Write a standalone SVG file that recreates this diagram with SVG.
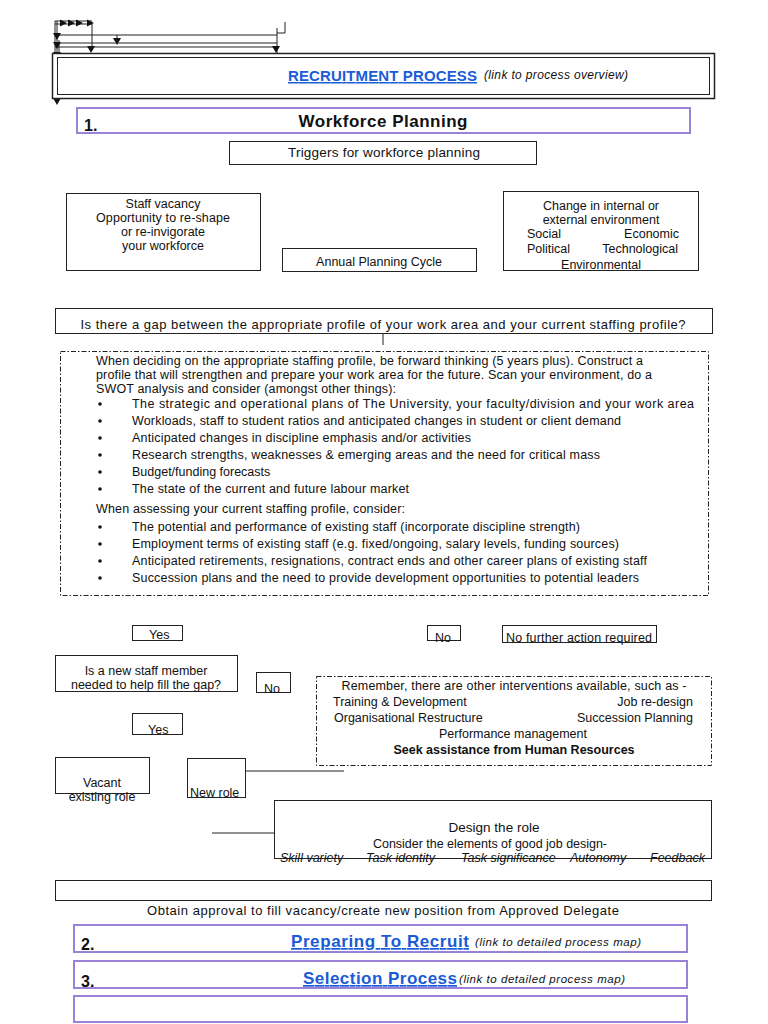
<svg xmlns="http://www.w3.org/2000/svg" xmlns:xlink="http://www.w3.org/1999/xlink" width="768" height="1024" viewBox="0 0 768 1024">
<style>
text{font-family:"Liberation Sans",Arial,sans-serif;fill:#111;}
.b{fill:#fff;stroke:#222;stroke-width:1;}
.p{fill:#fff;stroke:#9a82d8;stroke-width:2;}
.d{fill:none;stroke:#222;stroke-width:1;stroke-dasharray:5 2 1.5 2;}
.t{font-size:12.5px;}
.c{text-anchor:middle;}
.r{text-anchor:end;}
.bold{font-weight:bold;}
.i{font-style:italic;}
.link{fill:#1a5bd6;font-weight:bold;text-decoration:underline;}
.ln{stroke:#222;stroke-width:1;fill:none;}
</style>
<defs>
<path id="ad" d="M-4,-6 L4,-6 L0,1 z" fill="#111"/>
<path id="ar" d="M-6,-3.5 L1,0 L-6,3.5 z" fill="#111"/>
</defs>
<rect width="768" height="1024" fill="#fff"/>

<g id="connectors">
<path class="ln" d="M55 21 V100 M57 21 V103 M59 40 V58"/>
<path class="ln" d="M55 21 H92 M55 24 H92 M92 24 V50"/>
<use xlink:href="#ar" x="66" y="23"/>
<use xlink:href="#ar" x="74" y="23"/>
<use xlink:href="#ar" x="82" y="23"/>
<use xlink:href="#ar" x="93" y="23"/>
<use xlink:href="#ad" x="91" y="52"/>
<path class="ln" d="M57 35 H117 V42 M117 35 H277 M277 28 V60 M285 22 V33 H277"/>
<use xlink:href="#ad" x="117" y="44"/>
<path class="ln" d="M55 43 H277 M55 47 H277"/>
<use xlink:href="#ad" x="276" y="52"/>
<use xlink:href="#ad" x="276" y="63"/>
<use xlink:href="#ad" x="57" y="39"/>
<use xlink:href="#ad" x="57" y="48"/>
<use xlink:href="#ad" x="57" y="58"/>
<use xlink:href="#ad" x="57" y="104"/>
<path class="ln" d="M383 334 V345"/>
<path class="ln" d="M245 771 H344"/>
<path class="ln" d="M212 833 H274"/>
</g>

<g id="header">
<rect x="52.5" y="53.5" width="662" height="45" fill="#fff" stroke="#222" stroke-width="1.5"/>
<rect x="57.5" y="57.5" width="652" height="37" fill="none" stroke="#222" stroke-width="1"/>
<text x="288" y="81" class="link" style="font-size:15px" textLength="189">RECRUITMENT PROCESS</text>
<text x="484" y="79" class="i" style="font-size:12px" textLength="144">(link to process overview)</text>
</g>

<g id="step1">
<rect x="77" y="108" width="613" height="25" class="p"/>
<text x="84" y="131" class="bold" style="font-size:16px">1.</text>
<text x="383" y="127" class="bold c" style="font-size:17px" textLength="169">Workforce Planning</text>
</g>

<g id="triggers">
<rect x="229.5" y="141.5" width="307" height="23" class="b"/>
<text x="384" y="157" class="c" style="font-size:13.5px" textLength="192">Triggers for workforce planning</text>
</g>

<g id="staff-vacancy">
<rect x="66.5" y="193.5" width="194" height="77" class="b"/>
<text x="163" y="208" class="t c">Staff vacancy</text>
<text x="163" y="222" class="t c" textLength="134">Opportunity to re-shape</text>
<text x="163" y="236" class="t c">or re-invigorate</text>
<text x="163" y="250" class="t c">your workforce</text>
</g>

<g id="annual-cycle">
<rect x="282.5" y="248.5" width="194" height="23" class="b"/>
<text x="379" y="266" class="t c">Annual Planning Cycle</text>
</g>

<g id="change">
<rect x="503.5" y="191.5" width="195" height="79" class="b"/>
<text x="601" y="210" class="t c">Change in internal or</text>
<text x="601" y="224" class="t c">external environment</text>
<text x="527" y="238" class="t">Social</text>
<text x="679" y="238" class="t r">Economic</text>
<text x="527" y="253" class="t">Political</text>
<text x="678" y="253" class="t r">Technological</text>
<text x="601" y="269" class="t c">Environmental</text>
</g>

<g id="gap-question">
<rect x="55.5" y="308.5" width="657" height="25" class="b"/>
<text x="383" y="329" class="c" style="font-size:13px" textLength="605">Is there a gap between the appropriate profile of your work area and your current staffing profile?</text>
</g>

<g id="considerations">
<rect x="60.5" y="351.5" width="648" height="244" class="d"/>
<text x="96" y="365" class="t" textLength="547">When deciding on the appropriate staffing profile, be forward thinking (5 years plus). Construct a</text>
<text x="96" y="379" class="t" textLength="556">profile that will strengthen and prepare your work area for the future. Scan your environment, do a</text>
<text x="96" y="393" class="t" textLength="300">SWOT analysis and consider (amongst other things):</text>
<circle cx="100" cy="404" r="1.8" fill="#111"/><text x="132" y="408" class="t" textLength="562">The strategic and operational plans of The University, your faculty/division and your work area</text>
<circle cx="100" cy="421" r="1.8" fill="#111"/><text x="132" y="425" class="t" textLength="489">Workloads, staff to student ratios and anticipated changes in student or client demand</text>
<circle cx="100" cy="438" r="1.8" fill="#111"/><text x="132" y="442" class="t" textLength="339">Anticipated changes in discipline emphasis and/or activities</text>
<circle cx="100" cy="455" r="1.8" fill="#111"/><text x="132" y="459" class="t" textLength="468">Research strengths, weaknesses &amp; emerging areas and the need for critical mass</text>
<circle cx="100" cy="472" r="1.8" fill="#111"/><text x="132" y="476" class="t">Budget/funding forecasts</text>
<circle cx="100" cy="489" r="1.8" fill="#111"/><text x="132" y="493" class="t" textLength="277">The state of the current and future labour market</text>
<text x="96" y="513" class="t" textLength="309">When assessing your current staffing profile, consider:</text>
<circle cx="100" cy="527" r="1.8" fill="#111"/><text x="132" y="531" class="t" textLength="448">The potential and performance of existing staff (incorporate discipline strength)</text>
<circle cx="100" cy="544" r="1.8" fill="#111"/><text x="132" y="548" class="t" textLength="487">Employment terms of existing staff (e.g. fixed/ongoing, salary levels, funding sources)</text>
<circle cx="100" cy="561" r="1.8" fill="#111"/><text x="132" y="565" class="t" textLength="515">Anticipated retirements, resignations, contract ends and other career plans of existing staff</text>
<circle cx="100" cy="578" r="1.8" fill="#111"/><text x="132" y="582" class="t" textLength="507">Succession plans and the need to provide development opportunities to potential leaders</text>
</g>

<g id="yes1">
<rect x="132.5" y="625.5" width="50" height="15" class="b"/>
<text x="149" y="639" class="t">Yes</text>
</g>

<g id="no1">
<rect x="427.5" y="625.5" width="33" height="15" class="b"/>
<text x="435" y="642" class="t">No</text>
</g>

<g id="no-action">
<rect x="502.5" y="625.5" width="154" height="17" class="b"/>
<text x="506" y="642" class="t" textLength="146">No further action required</text>
</g>

<g id="new-staff">
<rect x="55.5" y="655.5" width="182" height="36" class="b"/>
<text x="146" y="675" class="t c">Is a new staff member</text>
<text x="146" y="689" class="t c">needed to help fill the gap?</text>
</g>

<g id="no2">
<rect x="256.5" y="672.5" width="34" height="20" class="b"/>
<text x="264" y="693" class="t">No</text>
</g>

<g id="interventions">
<rect x="316.5" y="676.5" width="395" height="89" class="d"/>
<text x="514" y="690" class="t c" textLength="345">Remember, there are other interventions available, such as -</text>
<text x="333" y="706" class="t">Training &amp; Development</text>
<text x="693" y="706" class="t r">Job re-design</text>
<text x="334" y="722" class="t">Organisational Restructure</text>
<text x="693" y="722" class="t r">Succession Planning</text>
<text x="513" y="738" class="t c">Performance management</text>
<text x="514" y="754" class="t c bold">Seek assistance from Human Resources</text>
</g>

<g id="yes2">
<rect x="132.5" y="713.5" width="50" height="21" class="b"/>
<text x="148" y="734" class="t">Yes</text>
</g>

<g id="vacant">
<rect x="55.5" y="757.5" width="94" height="36" class="b"/>
<text x="102" y="787" class="t c">Vacant</text>
<text x="102" y="801" class="t c">existing role</text>
</g>

<g id="new-role">
<rect x="187.5" y="758.5" width="58" height="39" class="b"/>
<text x="190" y="797" class="t">New role</text>
</g>

<g id="design-role">
<rect x="274.5" y="800.5" width="437" height="58" class="b"/>
<text x="494" y="832" class="c" style="font-size:13.5px">Design the role</text>
<text x="490" y="848" class="t c" textLength="234">Consider the elements of good job design-</text>
<text x="280" y="862" class="t i">Skill variety</text>
<text x="366" y="862" class="t i">Task identity</text>
<text x="461" y="862" class="t i">Task significance</text>
<text x="570" y="862" class="t i">Autonomy</text>
<text x="650" y="862" class="t i">Feedback</text>
</g>

<g id="approval">
<rect x="55.5" y="880.5" width="656" height="20" class="b"/>
<text x="383" y="915" class="c" style="font-size:13px" textLength="472">Obtain approval to fill vacancy/create new position from Approved Delegate</text>
</g>

<g id="step2">
<rect x="74" y="925" width="613" height="27" class="p"/>
<text x="81" y="950" class="bold" style="font-size:16px">2.</text>
<text x="291" y="947" class="link" style="font-size:17px" textLength="178">Preparing To Recruit</text>
<text x="475" y="946" class="i" style="font-size:11.5px" textLength="166">(link to detailed process map)</text>
</g>

<g id="step3">
<rect x="74" y="961" width="613" height="27" class="p"/>
<text x="81" y="987" class="bold" style="font-size:16px">3.</text>
<text x="303" y="984" class="link" style="font-size:17px" textLength="154">Selection Process</text>
<text x="459" y="983" class="i" style="font-size:11.5px" textLength="166">(link to detailed process map)</text>
</g>

<g id="step4">
<rect x="74" y="996" width="613" height="26" class="p"/>
</g>
</svg>
